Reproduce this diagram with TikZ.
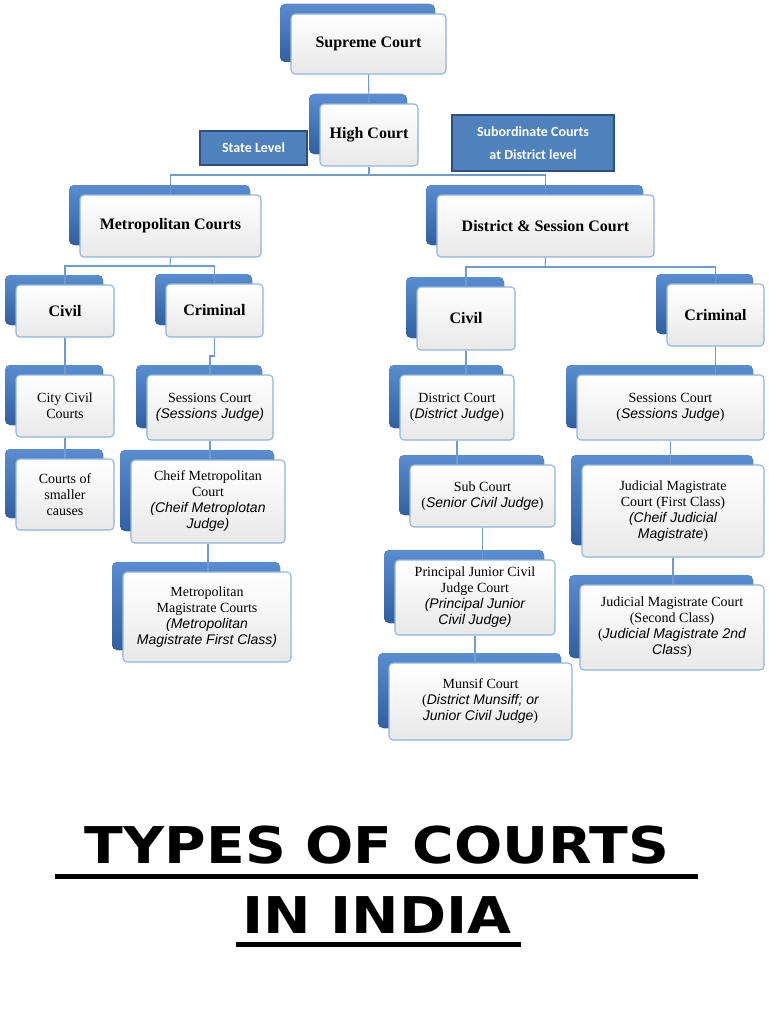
\documentclass[tikz,border=0pt]{standalone}
\usepackage{fontspec}
\setmainfont{Liberation Serif}
\newfontfamily\ital{Liberation Sans}
\newfontfamily\lab{Carlito}
\newfontfamily\ttl{DejaVu Sans}
\usetikzlibrary{fit,calc}
\definecolor{backblue}{HTML}{3C78C8}
\definecolor{edgeblue}{HTML}{8FB3E0}
\definecolor{labblue}{HTML}{4F81BD}
\definecolor{labedge}{HTML}{2F4F80}
\definecolor{linkblue}{HTML}{6F9BD0}
\tikzset{
 frontbox/.style={draw=edgeblue, line width=0.8pt, rounded corners=3pt, top color=white, bottom color=black!9, inner sep=0pt},
 backbox/.style={rounded corners=4pt, top color=backblue!85, bottom color=backblue!80!black},
 txt/.style={align=center, font=\fontsize{10.5}{12}\selectfont, text=black},
 hd/.style={align=center, font=\fontsize{12}{14}\selectfont\bfseries, text=black},
 lablbox/.style={draw=labedge, line width=1.2pt, fill=labblue, inner sep=0pt},
 link/.style={draw=linkblue, line width=0.8pt}
}
\newcommand\cbox[7]{%
 \fill[backbox] (#2-11,#3-10) rectangle (#4-11,#5-12);
 \node[frontbox, fit={(#2,#3)(#4,#5)}] (#1) {};
 \node[#6] at (#1) {#7};
}
\newcommand\itx[1]{{\ital\itshape #1}}
\begin{document}
\begin{tikzpicture}[x=0.75pt,y=-0.75pt]
\useasboundingbox[fill=white] (0,0) rectangle (768,1024);
\cbox{sup}{291}{14}{446}{74}{hd}{Supreme Court}
\cbox{hc}{320}{104}{418}{166}{hd}{High Court}
\node[lablbox, fit={(200,131)(307,165)}] (sl) {};
\node[text=white, font=\lab\bfseries\fontsize{10.5}{14}\selectfont] at (sl) {State Level};
\node[lablbox, fit={(452,115)(614,171)}] (sub) {};
\node[text=white, align=center, font=\lab\bfseries\fontsize{10.5}{17}\selectfont] at (sub) {Subordinate Courts\\at District level};
\cbox{met}{80}{195}{261}{257}{hd}{Metropolitan Courts}
\cbox{dsc}{437}{195}{654}{257}{hd}{District \& Session Court}
\cbox{civl}{16}{285}{114}{337}{hd}{Civil}
\cbox{crl}{166}{284}{263}{337}{hd}{Criminal}
\cbox{ccc}{16}{375}{114}{437}{txt}{City Civil\\Courts}
\cbox{csc}{16}{459}{114}{530}{txt}{Courts of\\smaller\\causes}
\cbox{scl}{147}{375}{273}{440}{txt}{Sessions Court\\\itx{(Sessions Judge)}}
\cbox{cmc}{131}{460}{285}{543}{txt}{Cheif Metropolitan\\Court\\\itx{(Cheif Metroplotan}\\\itx{Judge)}}
\cbox{mmc}{123}{572}{291}{662}{txt}{Metropolitan\\Magistrate Courts\\\itx{(Metropolitan}\\\itx{Magistrate First Class)}}
\cbox{civr}{417}{287}{515}{350}{hd}{Civil}
\cbox{crr}{667}{284}{764}{346}{hd}{Criminal}
\cbox{dc}{400}{375}{514}{440}{txt}{District Court\\(\itx{District Judge})}
\cbox{sc}{410}{465}{555}{527}{txt}{Sub Court\\(\itx{Senior Civil Judge})}
\cbox{pjc}{395}{560}{555}{635}{txt}{Principal Junior Civil\\Judge Court\\\itx{(Principal Junior}\\\itx{Civil Judge)}}
\cbox{mc}{389}{663}{572}{740}{txt}{Munsif Court\\(\itx{District Munsiff; or}\\\itx{Junior Civil Judge})}
\cbox{scr}{577}{375}{764}{440}{txt}{Sessions Court\\(\itx{Sessions Judge})}
\cbox{jm1}{582}{465}{764}{557}{txt}{Judicial Magistrate\\Court (First Class)\\\itx{(Cheif Judicial}\\\itx{Magistrate})}
\cbox{jm2}{580}{585}{764}{670}{txt}{Judicial Magistrate Court\\(Second Class)\\(\itx{Judicial Magistrate 2nd}\\\itx{Class})}
% connectors
\draw[link] (sup.south) -- (hc.north);
\coordinate (t1) at (369,175);
\draw[link] (hc.south) -- (t1);
\draw[link] (met.north) |- (t1) -| (dsc.north);
\coordinate (t2) at (170,266);
\draw[link] (met.south) -- (t2);
\draw[link] (civl.north) |- (t2) -| (crl.north);
\coordinate (t3) at (545,267);
\draw[link] (dsc.south) -- (t3);
\draw[link] (civr.north) |- (t3) -| (crr.north);
\draw[link] (civl.south) -- (ccc.north);
\draw[link] (ccc.south) -- (csc.north);
\draw[link] (crl.south) |- ($(crl.south)!0.5!(scl.north)$) -| (scl.north);
\draw[link] (scl.south) -- (scl.south |- cmc.north);
\draw[link] (cmc.south) -- (cmc.south |- mmc.north);
\draw[link] (civr.south) -- (civr.south |- dc.north);
\draw[link] (dc.south) -- (dc.south |- sc.north);
\draw[link] (sc.south) -- (sc.south |- pjc.north);
\draw[link] (pjc.south) -- (pjc.south |- mc.north);
\draw[link] (crr.south) -- (crr.south |- scr.north);
\draw[link] (scr.south) -- (scr.south |- jm1.north);
\draw[link] (jm1.south) -- (jm1.south |- jm2.north);
% title
\node[font=\ttl\bfseries\fontsize{38}{40}\selectfont, xscale=1.12, inner sep=0] (t1l) at (377,845) {TYPES OF COURTS};
\node[font=\ttl\bfseries\fontsize{38}{40}\selectfont, xscale=1.12, inner sep=0] (t2l) at (377,915) {IN INDIA};
\fill (55,874) rectangle (698,879);
\fill (236,942) rectangle (521,947);
\end{tikzpicture}
\end{document}
